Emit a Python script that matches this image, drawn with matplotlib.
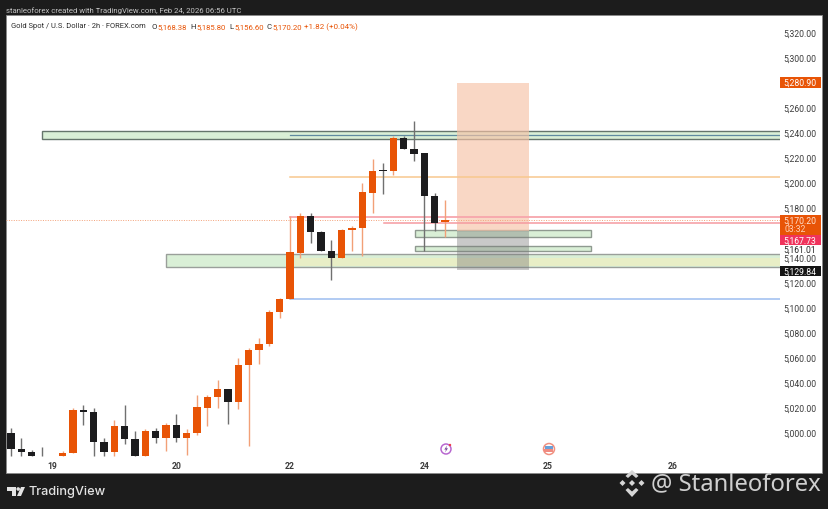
import matplotlib
matplotlib.use('Agg')
import matplotlib.pyplot as plt
from matplotlib.patches import Rectangle, Polygon, Circle

plt.rcParams['font.family'] = ['Roboto', 'DejaVu Sans']

# 2h candles (None = no visible candle)
opens = [5000, 4987, 4984.6, 4981.5, None, 4981, 4984, 5018.2, 5016.6, 4992.6, 4984.4, 5005.2, 4994.8, 4981,
         5001.4, 4995.8, 5006.2, 4995.8, 4999.4, 5019.8, 5028.6, 5034.6, 5024.6, 5054, 5065.8, 5071, 5096.4,
         5106.6, 5144, 5173.4, 5160.6, 5145, 5139.6, 5162, 5163.6, 5192, 5209.6, 5209, 5235.6, 5227, 5223.4,
         5189, 5168.38]
closes = [4987, 4984.4, 4981, 4981.2, None, 4984, 5018.2, 5016.4, 4992.6, 4984.4, 5005.2, 4994.8, 4981, 5001.4,
          4995.8, 5006.2, 4995.8, 4999.6, 5020, 5028.6, 5034.6, 5024.6, 5054, 5066, 5071, 5096.4, 5106.8,
          5144, 5173.4, 5160.4, 5145, 5139.6, 5162.2, 5163.6, 5192, 5209.2, 5209.2, 5235.6, 5226.8, 5222.8, 5189,
          5167.3, 5170.2]
highs = [5003.4, 4995.6, 4986, 4988.6, None, 4985, 5019.6, 5022, 5020, 4996, 5010.2, 5022, 5001.4, 5002.5,
         5004, 5007.6, 5014.6, 5002.8, 5029.8, 5030.2, 5042.2, 5034.6, 5060, 5068, 5076, 5098, 5107.6,
         5173, 5176, 5175.4, 5161.4, 5154, 5163, 5165, 5199.6, 5218.8, 5215.4, 5237.4, 5237, 5249, 5223.4,
         5191.3, 5185.8]
lows = [4981, 4981, 4981, 4981, None, 4981, 4984, 5006, 4981.4, 4981, 4981, 4990.8, 4981, 4981,
        4991.8, 4985, 4992.6, 4982, 4998, 5005, 5019.8, 5007, 5018.6, 4989.4, 5054.6, 5069, 5091.8,
        5106.6, 5140, 5152, 5145, 5122, 5139.6, 5145, 5141.4, 5175.4, 5190.8, 5206, 5226.8, 5217.4, 5145,
        5161, 5156.6]

day_ticks = [4, 16, 27, 40, 52, 64]
day_labels = ['19', '20', '22', '24', '25', '26']
price_ticks = [5000, 5020, 5040, 5060, 5080, 5100, 5120, 5140, 5180, 5200, 5220, 5240, 5260, 5300, 5320]

# zones: left index, right index, low price, high price
zone_left = [3.0, 15.0, 39.1, 39.1]
zone_right = [75.0, 75.0, 56.1, 56.1]
zone_low = [5234.6, 5132.6, 5156.4, 5145]
zone_high = [5241, 5142.8, 5162, 5149.4]

# long position tool
tool_left = 43.2
tool_right = 50.1
tool_top = 5279.5
tool_entry = 5161.01
tool_stop = 5129.84

last_price = 5170.2

ORANGE = '#e85406'
BLACK = '#1c1c1e'
DARK = '#1c1c1c'

fig = plt.figure(figsize=(8.29, 5.10), dpi=100, facecolor=DARK)

# page chrome in pixel coordinates
bg = fig.add_axes([0, 0, 1, 1], zorder=0)
bg.set_xlim(0, 829)
bg.set_ylim(510, 0)
bg.axis('off')
bg.add_patch(Rectangle((6, 16), 816, 457.5, facecolor='white', edgecolor='#8a8a8a', linewidth=0.6))

# price chart
ax = fig.add_axes([6 / 829, (510 - 458) / 510, 774 / 829, 442 / 510], zorder=1)
ax.patch.set_alpha(0)
ax.set_xlim(-0.48, 74.43)
ax.set_ylim(4980.4, 5334)
for s in ax.spines.values():
    s.set_visible(False)

# zones
edge_cols = ['#65756b', '#9a9f9a', '#8f9a90', '#8f9a90']
for l, r, lo, hi, ec in zip(zone_left, zone_right, zone_low, zone_high, edge_cols):
    ax.add_patch(Rectangle((l, lo), r - l, hi - lo, facecolor='#d9efd6', edgecolor=ec, linewidth=1.0, zorder=1))
ax.add_patch(Rectangle((27.5, 5133.4), 47.5, 6.2, facecolor='#e8eec6', edgecolor='none', zorder=1.1))
ax.plot([27, 75], [5237.8, 5237.8], color='#5f8aa0', lw=0.9, zorder=1.2)

# position tool
ax.add_patch(Rectangle((tool_left, tool_entry), tool_right - tool_left, tool_top - tool_entry,
                       facecolor='#f6c2a6', alpha=0.65, edgecolor='none', zorder=1.5))
ax.add_patch(Rectangle((tool_left, tool_stop), tool_right - tool_left, tool_entry - tool_stop,
                       facecolor='#787878', alpha=0.4, edgecolor='none', zorder=1.5))

# horizontal levels
ax.plot([27, 75], [5172.3, 5172.3], color='#f7a6ac', lw=1.3, zorder=2)
ax.plot([36.1, 75], [5167.5, 5167.5], color='#f59aa0', lw=1.1, zorder=2)
ax.plot([27, 75], [5204.6, 5204.6], color='#f8c88e', lw=1.1, zorder=2)
ax.plot([27, 75], [5107, 5107], color='#9cbdf0', lw=1.1, zorder=2)
ax.plot([-0.48, 75], [last_price, last_price], color='#f3a27a', lw=0.7, ls=(0, (1, 1.5)), zorder=2)

# candles
for i, (o, c, h, l) in enumerate(zip(opens, closes, highs, lows)):
    if o is None:
        continue
    up = c >= o
    ax.vlines(i, l, h, color='#f2a077' if up else '#707070', lw=1.0, zorder=3)
    ax.bar(i, abs(c - o), bottom=min(o, c), width=0.72, color=ORANGE if up else BLACK, zorder=4)

ax.yaxis.tick_right()
ax.set_yticks(price_ticks)
ax.set_yticklabels(['{:,.2f}'.format(p) for p in price_ticks], fontsize=6.2, color='#3c3c3c')
ax.set_xticks(day_ticks)
ax.set_xticklabels(day_labels, fontsize=6.2, color='#3c3c3c', fontweight='bold')
ax.tick_params(axis='both', length=0)
ax.tick_params(axis='y', pad=2.6)
ax.tick_params(axis='x', pad=3)

# overlay for price tags, icons, header and footer
fg = fig.add_axes([0, 0, 1, 1], zorder=2)
fg.set_xlim(0, 829)
fg.set_ylim(510, 0)
fg.axis('off')

fg.add_patch(Rectangle((780, 78), 41, 11, facecolor=ORANGE, edgecolor='none'))
fg.add_patch(Rectangle((780, 215.5), 41, 20.5, facecolor=ORANGE, edgecolor='none'))
fg.add_patch(Rectangle((780, 236), 41, 9.5, facecolor='#f0335c', edgecolor='none'))
fg.add_patch(Rectangle((780, 267), 41, 10, facecolor='#151515', edgecolor='none'))
tag = dict(fontsize=6.2, ha='right', va='center')
fg.text(816, 83.5, '5,280.90', color='white', **tag)
fg.text(816, 221, '5,170.20', color='#ffe3d2', **tag)
fg.text(806, 230, '03:32', color='#ffd2b8', **tag)
fg.text(816, 241, '5,167.73', color='white', **tag)
fg.text(816, 250, '5,161.01', color='#2a2a2a', **tag)
fg.text(816, 272, '5,129.84', color='white', **tag)

# event icons
fg.add_patch(Circle((446, 450), 5, facecolor='white', edgecolor='#b868d0', linewidth=1.1))
fg.add_patch(Polygon([(447, 446.5), (444.3, 450.6), (446, 450.6), (445, 453.5), (448, 449.3), (446.3, 449.3)],
                     facecolor='#7a4a9a', edgecolor='none'))
fg.add_patch(Circle((450, 446), 1.2, facecolor='#ee3a4a', edgecolor='none'))
fg.add_patch(Circle((549, 450), 5.5, facecolor='white', edgecolor='#f09080', linewidth=1.1))
fg.add_patch(Rectangle((544.5, 449.5), 9, 3, facecolor='#f08a80', edgecolor='none'))
fg.add_patch(Rectangle((545, 446.5), 8, 3, facecolor='#6aa0d8', edgecolor='none'))

# header
fg.text(6, 10.5, 'stanleoforex created with TradingView.com, Feb 24, 2026 06:56 UTC', fontsize=5.6,
        color='#c4c4c4', va='center')
fg.text(11, 27, 'Gold Spot / U.S. Dollar · 2h · FOREX.com', fontsize=5.4, color='#2a2a2a', va='center')
legend_keys = [('O', 152, 157.5, '5,168.38'), ('H', 190, 196, '5,185.80'), ('L', 229, 234, '5,156.60'),
               ('C', 266.5, 272, '5,170.20')]
for k, kx, vx, v in legend_keys:
    fg.text(kx, 27, k, fontsize=5.6, color='#2a2a2a', va='center')
    fg.text(vx, 27, v, fontsize=5.6, color=ORANGE, va='center')
fg.text(304, 27, '+1.82 (+0.04%)', fontsize=5.8, color=ORANGE, va='center')

# TradingView logo
fg.add_patch(Polygon([(7, 488), (16, 488), (16, 497), (12, 497), (12, 492), (7, 492)], facecolor='#e4e4e4', edgecolor='none'))
fg.add_patch(Circle((18.2, 490), 1.8, facecolor='#e4e4e4', edgecolor='none'))
fg.add_patch(Polygon([(21, 488), (25, 488), (21, 497), (17, 497)], facecolor='#e4e4e4', edgecolor='none'))
fg.text(29, 492, 'TradingView', fontsize=9.2, color='#e2e2e2', va='center', fontweight='medium',
        family=['Inter', 'DejaVu Sans'])

# watermark
for cx, cy in [(622.5, 484), (641.5, 484), (632, 484)]:
    fg.add_patch(Polygon([(cx, cy - 3), (cx + 3, cy), (cx, cy + 3), (cx - 3, cy)], facecolor='#d6d6d6', edgecolor='none'))
fg.add_patch(Polygon([(625.5, 477), (632, 471), (638.5, 477), (636, 479), (632, 475.5), (628, 479)],
                     facecolor='#d6d6d6', edgecolor='none'))
fg.add_patch(Polygon([(625.5, 491), (628, 489), (632, 492.5), (636, 489), (638.5, 491), (632, 498)],
                     facecolor='#d6d6d6', edgecolor='none'))
fg.text(651, 484.5, '@ Stanleoforex', fontsize=17.2, color='#cfcfcf', va='center', family=['Noto Sans', 'DejaVu Sans'])

fig.savefig('out.png', dpi=100, facecolor=DARK)
